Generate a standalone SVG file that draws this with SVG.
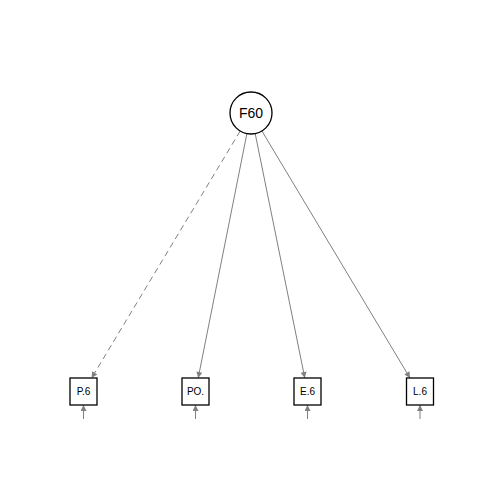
<svg xmlns="http://www.w3.org/2000/svg" width="504" height="504" viewBox="0 0 504 504">
<style>
.e{stroke:#808080;stroke-width:1;fill:none}
.b{fill:#fff;stroke:#000;stroke-width:1.3}
.t{font-family:"Liberation Sans",Arial,sans-serif;font-size:10px;fill:#000;text-anchor:middle}
</style>
<defs>
<marker id="a" viewBox="0 0 10 10" refX="10" refY="5" markerWidth="9" markerHeight="6" markerUnits="userSpaceOnUse" orient="auto">
<path d="M0,0L10,5L0,10z" fill="#808080"/>
</marker>
</defs>
<rect width="504" height="504" fill="#fff"/>
<g id="connectors">
<line class="e" x1="240.2" y1="131" x2="91.6" y2="378" stroke-dasharray="6,4" marker-end="url(#a)"/>
<line class="e" x1="246.9" y1="133.6" x2="198.2" y2="378" marker-end="url(#a)"/>
<line class="e" x1="255.2" y1="133.6" x2="304.8" y2="378" marker-end="url(#a)"/>
<line class="e" x1="261.9" y1="131" x2="410" y2="378" marker-end="url(#a)"/>
<line class="e" x1="83.5" y1="419" x2="83.5" y2="405" marker-end="url(#a)"/>
<line class="e" x1="195.5" y1="419" x2="195.5" y2="405" marker-end="url(#a)"/>
<line class="e" x1="307.5" y1="419" x2="307.5" y2="405" marker-end="url(#a)"/>
<line class="e" x1="420" y1="419" x2="420" y2="405" marker-end="url(#a)"/>
</g>
<g id="F60">
<circle class="b" cx="251" cy="113" r="21"/>
<text class="t" x="251" y="118" style="font-size:14px">F60</text>
</g>
<g id="P6">
<rect class="b" x="70" y="378" width="27" height="27"/>
<text class="t" x="83.5" y="395">P.6</text>
</g>
<g id="PO">
<rect class="b" x="182" y="378" width="27" height="27"/>
<text class="t" x="195.5" y="395">PO.</text>
</g>
<g id="E6">
<rect class="b" x="294" y="378" width="27" height="27"/>
<text class="t" x="307.5" y="395">E.6</text>
</g>
<g id="L6">
<rect class="b" x="406.5" y="378" width="27" height="27"/>
<text class="t" x="420" y="395">L.6</text>
</g>
</svg>
